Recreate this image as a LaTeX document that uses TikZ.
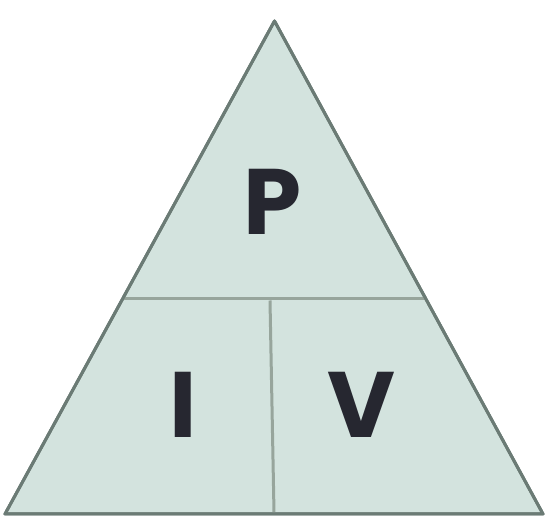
\documentclass[tikz,border=0pt]{standalone}
\usepackage{fontspec}
\setmainfont{Poppins}
\definecolor{trifill}{HTML}{D3E3DE}
\definecolor{outerline}{HTML}{6B7B75}
\definecolor{innerline}{HTML}{97A59C}
\definecolor{letter}{HTML}{262730}
\begin{document}
\begin{tikzpicture}[x=1pt,y=-1pt,
  outer/.style={draw=outerline,line width=3pt,fill=trifill,line join=round},
  inner/.style={draw=innerline,line width=3pt},
  lbl/.style={inner sep=0pt,anchor=base,text=letter,font=\fontsize{93}{93}\selectfont\bfseries}]
\useasboundingbox (0,0) rectangle (547,526);
\coordinate (A) at (274.5,21);
\coordinate (BL) at (5,514);
\coordinate (BR) at (543,514);
\coordinate (ML) at (122,299);
\coordinate (MR) at (427,299);
\coordinate (VT) at (270,300.5);
\coordinate (VB) at (274,512.5);
\draw[outer] (A) -- (BL) -- (BR) -- cycle;
\draw[inner] (ML) -- (MR);
\draw[inner] (VT) -- (VB);
\draw[outer,fill=none] (A) -- (BL) -- (BR) -- cycle;
\node[lbl] (P) at (272.5,235) {P};
\node[lbl] (I) at (183,438) {I};
\node[lbl] (V) at (361,438) {V};
\end{tikzpicture}
\end{document}
